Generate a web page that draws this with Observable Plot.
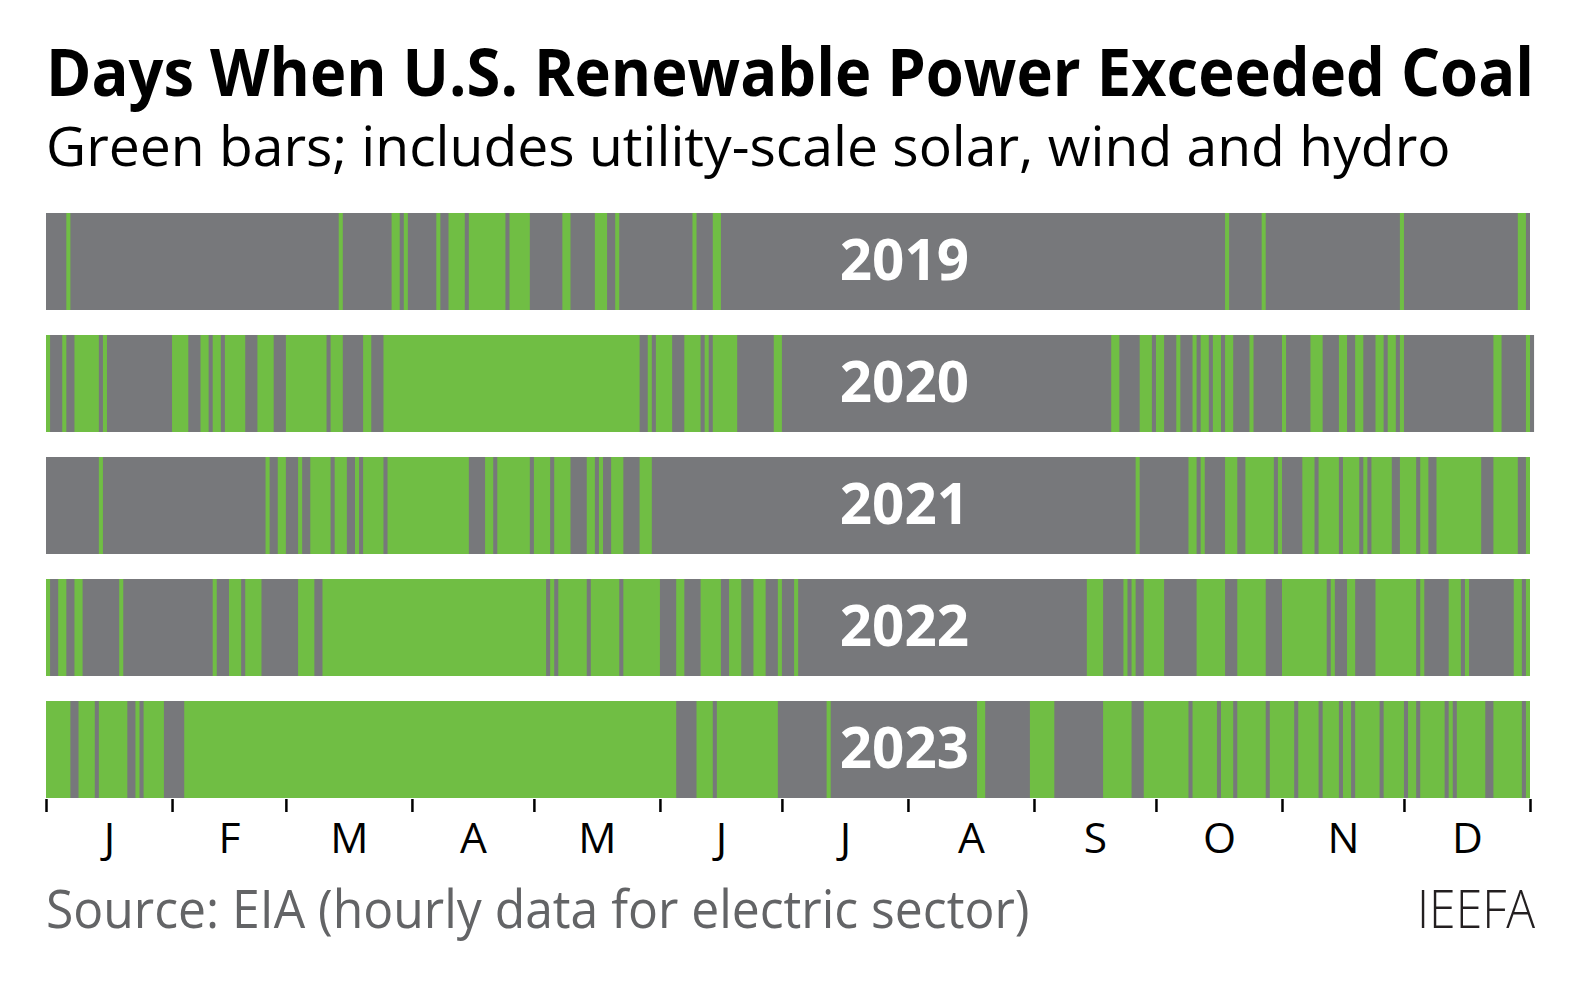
<!DOCTYPE html>
<html>
<head>
<meta charset="utf-8">
<script src="https://cdn.jsdelivr.net/npm/d3@7"></script>
<script src="https://cdn.jsdelivr.net/npm/@observablehq/plot@0.6"></script>
<style>
  html, body { margin: 0; padding: 0; background: #ffffff; }
  body { width: 1583px; height: 983px; position: relative; overflow: hidden; font-family: "Open Sans", sans-serif; }
  .t { position: absolute; white-space: nowrap; line-height: 1; display: inline-block; }
  #title { left: 46px; font-size: 67px; font-weight: 700; color: #000; transform-origin: left top; }
  #subtitle { left: 46px; font-size: 54.5px; font-weight: 400; color: #000; transform-origin: left top; }
  #source { left: 46px; font-size: 52.5px; font-weight: 400; color: #636466; transform-origin: left top; }
  #credit { right: 48px; font-size: 52.5px; font-weight: 300; color: #231f20; transform-origin: right top; }
  #chart { position: absolute; left: 0; top: 200px; width: 1583px; height: 669px; }
  #chart svg { max-width: none !important; }
</style>
</head>
<body>
<div id="title" class="t">Days When U.S. Renewable Power Exceeded Coal</div>
<div id="subtitle" class="t">Green bars; includes utility-scale solar, wind and hydro</div>
<div id="chart"></div>
<div id="source" class="t">Source: EIA (hourly data for electric sector)</div>
<div id="credit" class="t">IEEFA</div>
<script>
// ---- data: years, days in each year, and green (renewables > coal) day ranges [startDay, endDay) ----
const years = [2019, 2020, 2021, 2022, 2023];
const yearDays = [365, 366, 365, 365, 365];

const green2019 = [[5,6],[72,73],[85,87],[88,89],[96,97],[99,103],[104,113],[114,119],[127,129],[135,138],[140,141],[159,160],[164,166],
  [290,291],[299,300],[333,334],[362,364]];
const green2020 = [[0,1],[4,5],[7,13],[14,15],[31,35],[38,40],[41,43],[44,49],[52,56],[59,69],[70,73],[78,80],[83,146],[148,149],[150,154],[157,161],[162,163],[164,170],[179,181],
  [262,264],[269,272],[273,275],[278,279],[282,283],[284,286],[287,289],[290,292],[296,297],[304,305],[311,314],[318,320],[322,324],[327,329],[330,332],[333,334],[356,358],[364,365]];
const green2021 = [[13,14],[54,55],[57,59],[62,63],[65,70],[71,74],[76,77],[78,83],[84,104],[108,110],[111,119],[120,124],[125,129],[133,135],[136,137],[139,142],[146,149],
  [268,269],[281,283],[284,285],[290,293],[295,302],[303,304],[309,312],[313,318],[319,323],[324,325],[326,331],[333,337],[338,340],[342,353],[356,362],[364,365]];
const green2022 = [[0,1],[3,5],[7,9],[18,19],[41,42],[45,48],[49,53],[62,66],[68,123],[124,125],[126,133],[134,141],[142,151],[155,157],[161,166],[168,171],[174,177],[180,181],
  [184,185],[256,260],[265,266],[267,268],[270,275],[283,290],[293,300],[304,315],[316,317],[320,322],[327,337],[338,339],[345,348],[349,350],[361,363],[364,365]];
const green2023 = [[0,6],[8,12],[13,20],[22,23],[24,29],[34,155],[160,164],[165,180],
  [192,193],[229,231],[242,248],[260,267],[270,281],[282,288],[289,292],[293,300],[301,307],[308,313],[314,318],[319,321],[322,328],[329,334],[335,337],[338,344],[345,346],[347,354],[356,363],[364,365]];

const monthStarts = [0, 31, 59, 90, 120, 151, 181, 212, 243, 273, 304, 334, 365];
const monthLetters = ["J","F","M","A","M","J","J","A","S","O","N","D"];

// ---- build tables ----
const greenByYear = [green2019, green2020, green2021, green2022, green2023];
const yearRows = years.map((y, i) => ({year: y, days: yearDays[i]}));
const greenRows = greenByYear.flatMap((ranges, i) => ranges.map(([s, e]) => ({year: years[i], start: s, end: e})));
const monthMids = monthLetters.map((_, i) => (monthStarts[i] + monthStarts[i + 1]) / 2);

const GRAY = "#77787b";
const GREEN = "#70be44";
const yearLabelDay = 211;

const chart = Plot.plot({
  width: 1583,
  height: 669,
  marginLeft: 46,
  marginRight: 53,
  marginTop: 12,
  marginBottom: 70,
  style: {fontFamily: "Open Sans, sans-serif", background: "white", maxWidth: "none"},
  x: {domain: [0, 365], axis: null},
  y: {domain: years, paddingInner: 0.208, paddingOuter: 0, axis: null},
  marks: [
    Plot.barX(yearRows, {y: "year", x1: 0, x2: "days", fill: GRAY}),
    Plot.barX(greenRows, {y: "year", x1: "start", x2: "end", fill: GREEN}),
    Plot.text(yearRows, {y: "year", x: yearLabelDay, text: d => String(d.year), fill: "white",
      fontSize: 56.5, fontWeight: "bold", fontFamily: "Open Sans"}),
    Plot.axisX(monthStarts, {tickSize: 13, tickFormat: () => "", stroke: "black", strokeWidth: 2.5, label: null}),
    Plot.axisX(monthMids, {tickSize: 0, tickPadding: 23, fontSize: 42.5, fill: "black", label: null,
      tickFormat: d => monthLetters[monthMids.indexOf(d)]})
  ]
});
document.getElementById("chart").appendChild(chart);

// ---- place and fit text blocks (baseline = top + 0.888em for Open Sans at line-height 1) ----
function place(id, baseline, targetWidth) {
  const el = document.getElementById(id);
  const fs = parseFloat(getComputedStyle(el).fontSize);
  el.style.top = (baseline - 0.888 * fs) + "px";
  const w = el.offsetWidth; // untransformed width
  if (targetWidth && w > 0) el.style.transform = `scaleX(${targetWidth / w})`;
}
function layout() {
  place("title", 96, 1488);
  place("subtitle", 166.5, 1404);
  place("source", 929, 983);
  place("credit", 929, 118);
}
layout();
if (document.fonts && document.fonts.ready) document.fonts.ready.then(layout);
</script>
</body>
</html>
